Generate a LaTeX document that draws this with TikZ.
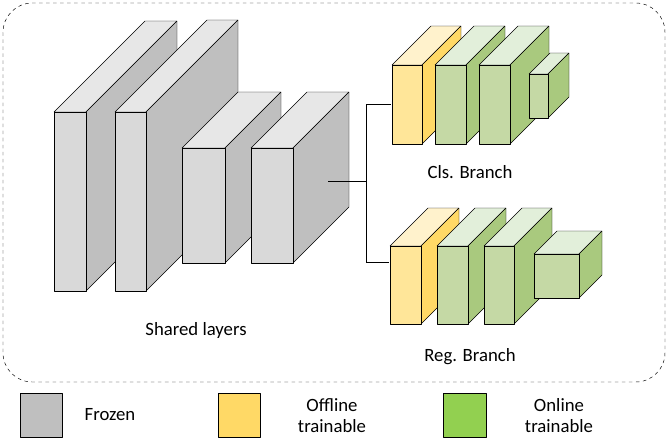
\documentclass[tikz,border=0pt]{standalone}
\usetikzlibrary{calc}
\usepackage{fontspec}
\setmainfont{Carlito}
\begin{document}
\begin{tikzpicture}[x=0.03cm,y=-0.03cm,line join=round,
  lbl/.style={font=\fontsize{16}{18}\selectfont,align=center}]
\definecolor{gF}{HTML}{D9D9D9}\definecolor{gS}{HTML}{BFBFBF}\definecolor{gT}{HTML}{E7E7E7}
\definecolor{yF}{HTML}{FFE699}\definecolor{yS}{HTML}{FFD966}\definecolor{yT}{HTML}{FFF2CC}
\definecolor{nF}{HTML}{C5D9A5}\definecolor{nS}{HTML}{A9C97E}\definecolor{nT}{HTML}{E2EFDA}
\definecolor{lG}{HTML}{92D050}
\newcommand{\mycube}[8]{% x1 y1 x2 y2 d front side top
  \filldraw[fill=#8,thin] (#1,#2) -- ++(#5,-#5) -- ($(#3,#2)+(#5,-#5)$) -- (#3,#2) -- cycle;
  \filldraw[fill=#7,thin] (#3,#2) -- ++(#5,-#5) -- ($(#3,#4)+(#5,-#5)$) -- (#3,#4) -- cycle;
  \filldraw[fill=#6,thin] (#1,#2) rectangle (#3,#4);}
\useasboundingbox (0,0) rectangle (669,441);
\draw[dashed,rounded corners=25] (3,3) rectangle (665,382);
\mycube{54}{112}{86}{291}{91}{gF}{gS}{gT}
\mycube{115}{112}{146}{291}{92}{gF}{gS}{gT}
\mycube{182}{148}{225}{263}{56}{gF}{gS}{gT}
\mycube{251}{148}{293}{263}{56}{gF}{gS}{gT}
\mycube{392}{65}{422}{144}{39}{yF}{yS}{yT}
\mycube{435}{65}{466}{144}{39}{nF}{nS}{nT}
\mycube{479}{65}{510}{144}{39}{nF}{nS}{nT}
\mycube{529}{74}{548}{118}{21}{nF}{nS}{nT}
\mycube{390}{246}{421}{324}{38}{yF}{yS}{yT}
\mycube{437}{246}{468}{324}{38}{nF}{nS}{nT}
\mycube{484}{246}{514}{324}{38}{nF}{nS}{nT}
\mycube{534}{254}{579}{298}{23}{nF}{nS}{nT}
\coordinate (src) at (328,181);
\coordinate (j) at (366,181);
\coordinate (jt) at (366,104);
\coordinate (jb) at (366,262);
\coordinate (ct) at (391,104);
\coordinate (cb) at (389,262);
\draw[semithick] (src) -- (j) (jt) -- (jb) (jt) -- (ct) (jb) -- (cb);
\node[lbl] (cls) at (470,172) {Cls. Branch};
\node[lbl] (reg) at (470,357) {Reg. Branch};
\node[lbl] (sh) at (196,330) {Shared layers};
\filldraw[fill=gS] (20,393) rectangle (62,437);
\node[lbl] (fz) at (110,415) {Frozen};
\filldraw[fill=yS] (218,393) rectangle (260,437);
\node[lbl,text width=3cm] (off) at (332,416) {Offline\\trainable};
\filldraw[fill=lG] (443,393) rectangle (486,437);
\node[lbl,text width=3cm] (on) at (559,416) {Online\\trainable};
\end{tikzpicture}
\end{document}
